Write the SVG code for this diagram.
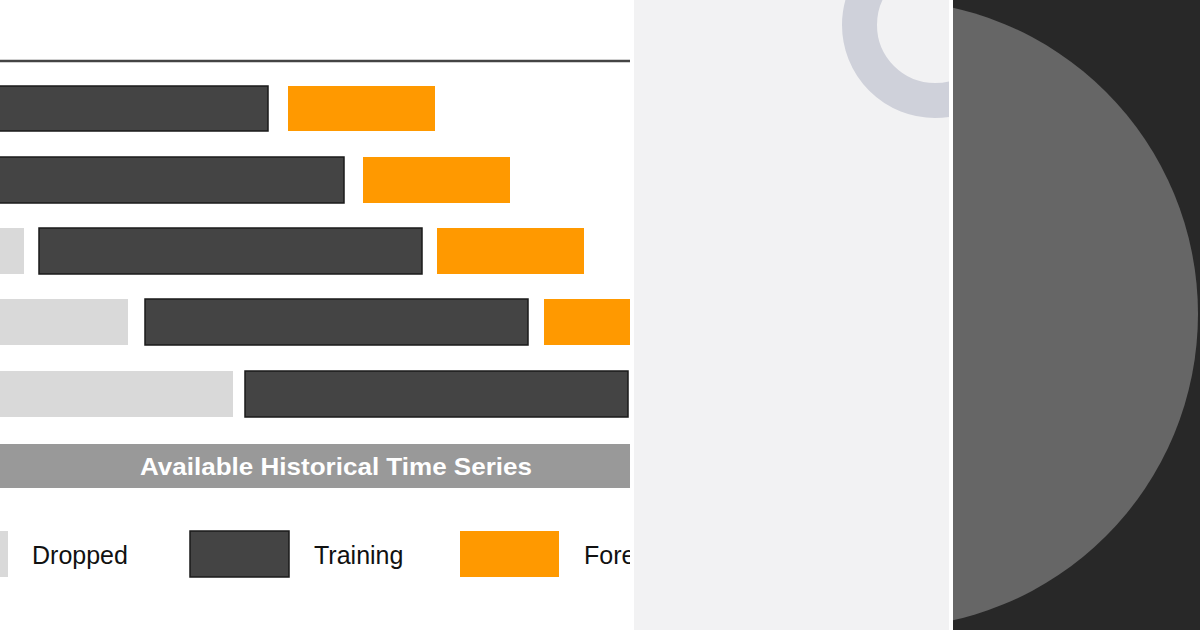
<svg xmlns="http://www.w3.org/2000/svg" width="1200" height="630" viewBox="0 0 1200 630">
<style>
.drop{fill:#d9d9d9}
.train{fill:#444444;stroke:#1a1a1a;stroke-width:1.5}
.fore{fill:#ff9900}
.lbl{font-family:"Liberation Sans",Arial,sans-serif;font-size:25px;fill:#111}
.title{font-family:"Liberation Sans",Arial,sans-serif;font-size:24px;font-weight:bold;fill:#ffffff}
</style>
<defs>
<clipPath id="leftClip"><rect x="0" y="0" width="630" height="630"/></clipPath>
<clipPath id="midClip"><rect x="634" y="0" width="315" height="630"/></clipPath>
<clipPath id="rightClip"><rect x="953" y="0" width="247" height="630"/></clipPath>
</defs>
<rect x="0" y="0" width="1200" height="630" fill="#ffffff"/>
<g id="chart" clip-path="url(#leftClip)">
<line x1="0" y1="61" x2="630" y2="61" stroke="#444" stroke-width="2.5"/>
<g id="row1">
<rect class="train" x="-2" y="86" width="270" height="45"/>
<rect class="fore" x="288" y="86" width="147" height="45"/>
</g>
<g id="row2">
<rect class="train" x="-2" y="157" width="346" height="46"/>
<rect class="fore" x="363" y="157" width="147" height="46"/>
</g>
<g id="row3">
<rect class="drop" x="0" y="228" width="24" height="46"/>
<rect class="train" x="39" y="228" width="383" height="46"/>
<rect class="fore" x="437" y="228" width="147" height="46"/>
</g>
<g id="row4">
<rect class="drop" x="0" y="299" width="128" height="46"/>
<rect class="train" x="145" y="299" width="383" height="46"/>
<rect class="fore" x="544" y="299" width="147" height="46"/>
</g>
<g id="row5">
<rect class="drop" x="0" y="371" width="233" height="46"/>
<rect class="train" x="245" y="371" width="383" height="46"/>
</g>
<g id="axisband">
<rect x="0" y="444" width="630" height="44" fill="#999999"/>
<text class="title" x="336" y="475" text-anchor="middle" textLength="392" lengthAdjust="spacingAndGlyphs">Available Historical Time Series</text>
</g>
<g id="legend">
<rect class="drop" x="0" y="531" width="8" height="46"/>
<text class="lbl" x="32" y="564">Dropped</text>
<rect class="train" x="190" y="531" width="99" height="46"/>
<text class="lbl" x="314" y="564">Training</text>
<rect class="fore" x="460" y="531" width="99" height="46"/>
<text class="lbl" x="584" y="564">Fore</text>
</g>
</g>
<g id="midpanel">
<rect x="634" y="0" width="315" height="630" fill="#f2f2f3"/>
<g clip-path="url(#midClip)">
<circle cx="935" cy="25" r="75.5" fill="none" stroke="#cfd1da" stroke-width="35"/>
</g>
</g>
<g id="rightpanel">
<rect x="953" y="0" width="247" height="630" fill="#282828"/>
<g clip-path="url(#rightClip)">
<circle cx="884" cy="314" r="314" fill="#666666"/>
</g>
</g>
</svg>
